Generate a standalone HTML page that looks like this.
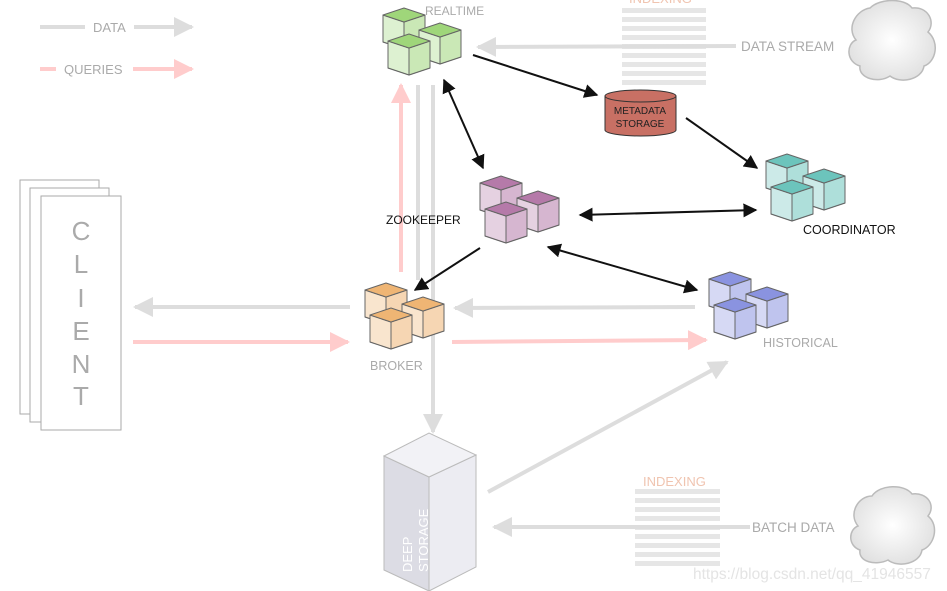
<!DOCTYPE html>
<html><head><meta charset="utf-8"><style>
html,body{margin:0;padding:0;background:#fff;}
svg{display:block;font-family:"Liberation Sans",sans-serif;}
</style></head><body>
<svg width="947" height="591" viewBox="0 0 947 591" xmlns="http://www.w3.org/2000/svg">
<defs>
<linearGradient id="sg" x1="0" y1="0" x2="1" y2="0"><stop offset="0" stop-color="#fff" stop-opacity="0.7"/><stop offset="1" stop-color="#fff" stop-opacity="0"/></linearGradient>
<g id="cube" stroke="#666" stroke-width="1" stroke-linejoin="round">
 <polygon points="0,7 21,14 21,41 0,34" fill="#fff"/>
 <polygon points="0,7 21,14 21,41 0,34" fill="currentColor" fill-opacity="0.35"/>
 <polygon points="21,14 42,7 42,34 21,41" fill="#fff"/>
 <polygon points="21,14 42,7 42,34 21,41" fill="currentColor" fill-opacity="0.55"/>
 <polygon points="0,7 21,0 42,7 21,14" fill="currentColor"/>
</g>
<marker id="ab" viewBox="0 0 10 10" refX="9" refY="5" markerWidth="7" markerHeight="7" orient="auto-start-reverse"><path d="M0,0L10,5L0,10z" fill="#111"/></marker>
<marker id="ag" viewBox="0 0 10 10" refX="9" refY="5" markerWidth="5" markerHeight="5" orient="auto-start-reverse"><path d="M0,0L10,5L0,10z" fill="#ddd"/></marker>
<marker id="ap" viewBox="0 0 10 10" refX="9" refY="5" markerWidth="5" markerHeight="5" orient="auto-start-reverse"><path d="M0,0L10,5L0,10z" fill="#fcc"/></marker>
<radialGradient id="cl" cx="0.5" cy="0.5" r="0.6"><stop offset="0" stop-color="#fff"/><stop offset="1" stop-color="#ddd"/></radialGradient>
</defs>

<!-- legend -->
<line x1="40" y1="27" x2="85" y2="27" stroke="#ddd" stroke-width="4"/>
<text x="93" y="32" font-size="13" fill="#aaa">DATA</text>
<line x1="134" y1="27" x2="192" y2="27" stroke="#ddd" stroke-width="4" marker-end="url(#ag)"/>
<line x1="40" y1="69" x2="56" y2="69" stroke="#fcc" stroke-width="4"/>
<text x="64" y="74" font-size="13" fill="#aaa">QUERIES</text>
<line x1="133" y1="69" x2="192" y2="69" stroke="#fcc" stroke-width="4" marker-end="url(#ap)"/>

<!-- client -->
<rect x="20" y="180" width="79" height="234" fill="#fff" stroke="#aaa"/>
<rect x="30" y="188" width="79" height="234" fill="#fff" stroke="#aaa"/>
<rect x="41" y="196" width="80" height="234" fill="#fff" stroke="#aaa"/>
<g font-size="26" fill="#aaa" text-anchor="middle">
<text x="81" y="240">C</text><text x="81" y="273">L</text><text x="81" y="307">I</text><text x="81" y="340">E</text><text x="81" y="373">N</text><text x="81" y="405">T</text>
</g>

<!-- indexing top -->
<g fill="#e6e6e6">
<rect x="622" y="8" width="84" height="5"/><rect x="622" y="17" width="84" height="5"/><rect x="622" y="26" width="84" height="5"/><rect x="622" y="35" width="84" height="5"/><rect x="622" y="44" width="84" height="5"/><rect x="622" y="53" width="84" height="5"/><rect x="622" y="62" width="84" height="5"/><rect x="622" y="71" width="84" height="5"/><rect x="622" y="80" width="84" height="5"/>
</g>
<text x="629" y="3" font-size="13" fill="#f0c4b0">INDEXING</text>
<!-- indexing bottom -->
<g fill="#e6e6e6">
<rect x="635" y="489" width="85" height="5"/><rect x="635" y="498" width="85" height="5"/><rect x="635" y="507" width="85" height="5"/><rect x="635" y="516" width="85" height="5"/><rect x="635" y="525" width="85" height="5"/><rect x="635" y="534" width="85" height="5"/><rect x="635" y="543" width="85" height="5"/><rect x="635" y="552" width="85" height="5"/><rect x="635" y="561" width="85" height="5"/>
</g>
<text x="643" y="486" font-size="13" fill="#f0c4b0">INDEXING</text>

<!-- clouds -->
<path d="M870,8 C880,-2 905,-2 912,8 C928,6 936,22 928,32 C940,42 936,62 924,66 C922,80 900,84 890,76 C878,84 858,78 860,66 C846,62 846,44 856,40 C846,28 856,10 870,8 Z" fill="url(#cl)" stroke="#bbb" stroke-width="1.5"/>
<path d="M872,496 C880,484 905,484 912,494 C928,492 936,506 928,516 C940,526 934,546 922,550 C920,564 898,568 888,560 C876,566 858,562 860,550 C848,546 848,530 858,526 C848,514 858,496 872,496 Z" fill="url(#cl)" stroke="#bbb" stroke-width="1.5"/>
<text x="741" y="51" font-size="13.5" fill="#aaa">DATA STREAM</text>
<text x="752" y="532" font-size="13.5" fill="#aaa">BATCH DATA</text>

<!-- gray data arrows -->
<g stroke="#ddd" stroke-width="4" fill="none">
<line x1="736" y1="46" x2="478" y2="47" marker-end="url(#ag)"/>
<line x1="418" y1="85" x2="418" y2="280"/>
<line x1="433" y1="85" x2="433" y2="432" marker-end="url(#ag)"/>
<line x1="350" y1="307" x2="135" y2="307" marker-end="url(#ag)"/>
<line x1="695" y1="307" x2="455" y2="308" marker-end="url(#ag)"/>
<line x1="488" y1="492" x2="727" y2="362" marker-end="url(#ag)"/>
<line x1="750" y1="527" x2="494" y2="527" marker-end="url(#ag)"/>
</g>
<g stroke="#fcc" stroke-width="4" fill="none">
<line x1="401" y1="272" x2="401" y2="85" marker-end="url(#ap)"/>
<line x1="133" y1="342" x2="348" y2="342" marker-end="url(#ap)"/>
<line x1="452" y1="342" x2="706" y2="340" marker-end="url(#ap)"/>
</g>

<!-- deep storage -->
<polygon points="384,456 429,477 429,591 384,570" fill="#dcdce4" stroke="#bbb"/>
<polygon points="429,477 476,455 476,567 429,591" fill="#ececf2" stroke="#bbb"/>
<polygon points="384,456 429,433 476,455 429,477" fill="#f2f2f6" stroke="#bbb"/>
<text transform="translate(412,572) rotate(-90)" font-size="13" fill="#fff">DEEP</text>
<text transform="translate(428,572) rotate(-90)" font-size="13" fill="#fff">STORAGE</text>

<!-- metadata -->
<path d="M605,96 L605,130 A35.5,6 0 0 0 676,130 L676,96" fill="#c87064" stroke="#333"/>
<ellipse cx="640.5" cy="96" rx="35.5" ry="6" fill="#c87064" stroke="#333"/>
<text x="640" y="114" font-size="10" text-anchor="middle" fill="#222">METADATA</text>
<text x="640" y="127" font-size="10" text-anchor="middle" fill="#222">STORAGE</text>

<!-- clusters -->
<g color="#9fd67a"><use href="#cube" x="383" y="8"/><use href="#cube" x="419" y="23"/><use href="#cube" x="388" y="34"/></g>
<text x="425" y="15" font-size="12" fill="#aaa">REALTIME</text>
<g color="#b57aa9"><use href="#cube" x="480" y="176"/><use href="#cube" x="517" y="191"/><use href="#cube" x="485" y="202"/></g>
<text x="386" y="224" font-size="12" fill="#111">ZOOKEEPER</text>
<g color="#efb574"><use href="#cube" x="365" y="283"/><use href="#cube" x="402" y="297"/><use href="#cube" x="370" y="308"/></g>
<text x="370" y="370" font-size="12.5" fill="#aaa">BROKER</text>
<g color="#8a93e0"><use href="#cube" x="709" y="272"/><use href="#cube" x="746" y="287"/><use href="#cube" x="714" y="298"/></g>
<text x="763" y="347" font-size="12.5" fill="#aaa">HISTORICAL</text>
<g color="#6cc4bc"><use href="#cube" x="766" y="154"/><use href="#cube" x="803" y="169"/><use href="#cube" x="771" y="180"/></g>
<text x="803" y="234" font-size="12.5" fill="#111">COORDINATOR</text>

<!-- black arrows -->
<g stroke="#111" stroke-width="2" fill="none">
<line x1="473" y1="55" x2="597" y2="95" marker-end="url(#ab)"/>
<line x1="444" y1="80" x2="483" y2="168" marker-start="url(#ab)" marker-end="url(#ab)"/>
<line x1="580" y1="215" x2="756" y2="210" marker-start="url(#ab)" marker-end="url(#ab)"/>
<line x1="480" y1="248" x2="415" y2="290" marker-end="url(#ab)"/>
<line x1="548" y1="247" x2="697" y2="290" marker-start="url(#ab)" marker-end="url(#ab)"/>
<line x1="686" y1="118" x2="757" y2="168" marker-end="url(#ab)"/>
</g>

<text x="693" y="579" font-size="15.5" fill="#e4e4e4">https://blog.csdn.net/qq_41946557</text>
</svg>
</body></html>
